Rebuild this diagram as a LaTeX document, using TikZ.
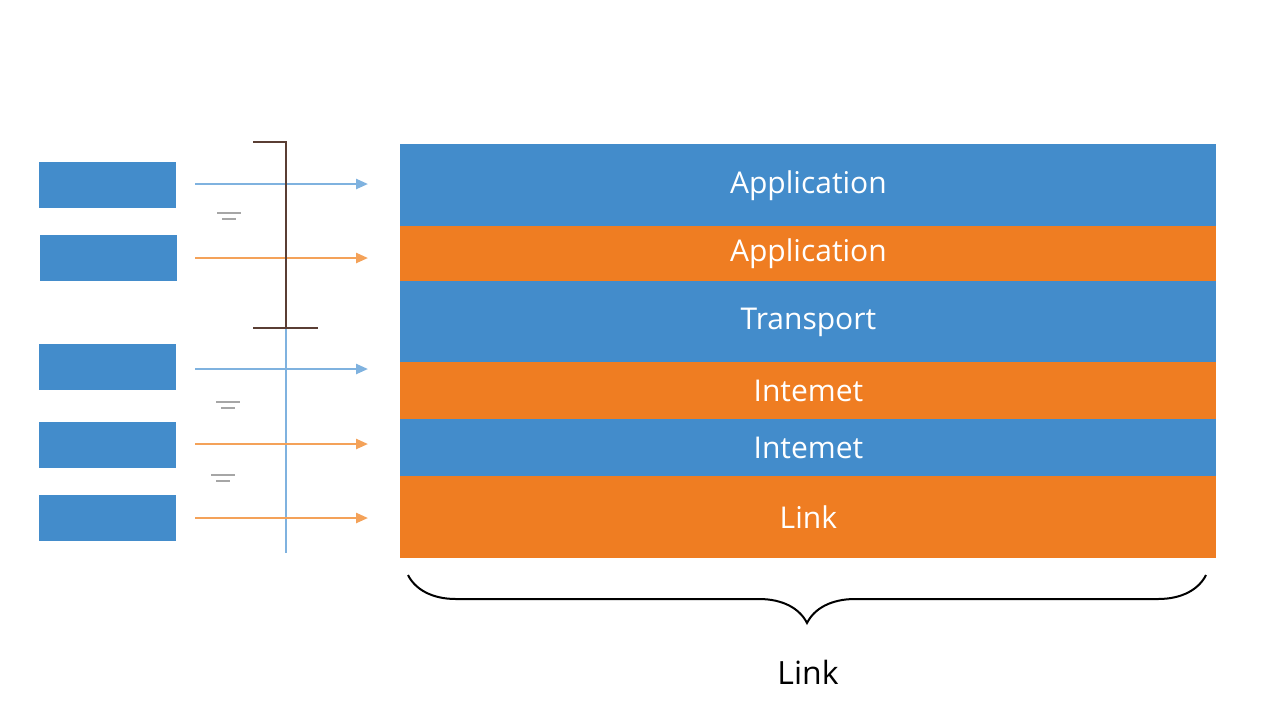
\documentclass[tikz,border=0pt]{standalone}
\usepackage{fontspec}
\setmainfont{Open Sans}
\usetikzlibrary{positioning, arrows.meta, decorations.pathreplacing}
\definecolor{layerblue}{HTML}{438CCB}
\definecolor{layerorange}{HTML}{EF7D22}
\definecolor{lineblue}{HTML}{7FB2DF}
\definecolor{lineorange}{HTML}{F4A259}
\definecolor{bracketbrown}{HTML}{5A3E34}

\begin{document}
\begin{tikzpicture}[
                x=0.5pt, y=-0.5pt,
                layer/.style={rectangle, inner sep=0pt, minimum width=408pt, anchor=north west, text=white, font=\fontsize{15}{18}\selectfont},
                host/.style={rectangle, inner sep=0pt, minimum width=68.5pt, minimum height=23pt, anchor=north west, fill=layerblue},
                arrow/.style={-{Triangle[length=6pt,width=5pt]}, line width=1.2pt},
                tick/.style={gray!70, line width=0.8pt}
            ]
            \useasboundingbox (0,0) rectangle (1280,720);
            % stack of layers
            \node[layer, fill=layerblue, minimum height=41pt] (app1) at (400,144) {Application};
            \node[layer, fill=layerorange, minimum height=27.5pt] (app2) at (400,226) {Application};
            \node[layer, fill=layerblue, minimum height=40.5pt] (trans) at (400,281) {Transport};
            \node[layer, fill=layerorange, minimum height=28.5pt] (inet1) at (400,362) {Intemet};
            \node[layer, fill=layerblue, minimum height=28.5pt] (inet2) at (400,419) {Intemet};
            \node[layer, fill=layerorange, minimum height=41pt] (link) at (400,476) {Link};

            % hosts on the left
            \node[host] (h1) at (39,162) {};
            \node[host] (h2) at (40,235) {};
            \node[host] (h3) at (39,344) {};
            \node[host] (h4) at (39,422) {};
            \node[host] (h5) at (39,495) {};

            \coordinate (a1) at (195,184); \coordinate (b1) at (368,184);
            \coordinate (a2) at (195,258); \coordinate (b2) at (368,258);
            \coordinate (a3) at (195,369); \coordinate (b3) at (368,369);
            \coordinate (a4) at (195,444); \coordinate (b4) at (368,444);
            \coordinate (a5) at (195,518); \coordinate (b5) at (368,518);

            % bracket and bus
            \coordinate (btop) at (286,142);
            \coordinate (bbot) at (286,328);
            \coordinate (bend) at (286,553);
            \draw[lineblue, line width=1.2pt] (bbot) -- (bend);
            \draw[arrow, lineblue] (a1) -- (b1);
            \draw[arrow, lineorange] (a2) -- (b2);
            \draw[arrow, lineblue] (a3) -- (b3);
            \draw[arrow, lineorange] (a4) -- (b4);
            \draw[arrow, lineorange] (a5) -- (b5);
            \draw[bracketbrown, line width=1.4pt] (253,142) -- (btop) -- (bbot);
            \draw[bracketbrown, line width=1.4pt] (253,328) -- (318,328);

            % small marks
            \foreach \mx/\my in {229/216, 228/405, 223/478} {
                \draw[tick] (\mx-12,\my-3) -- (\mx+12,\my-3);
                \draw[tick] (\mx-7,\my+3) -- (\mx+7,\my+3);
            }

            % brace
            \coordinate (bl) at (408,575);
            \coordinate (br) at (1206,575);
            \draw[line width=1pt, decorate, decoration={brace, mirror, amplitude=24pt, aspect=0.5}] (bl) -- (br);
            \node[font=\fontsize{16}{19}\selectfont] (linklabel) at (808,672) {Link};
        \end{tikzpicture}
\end{document}
